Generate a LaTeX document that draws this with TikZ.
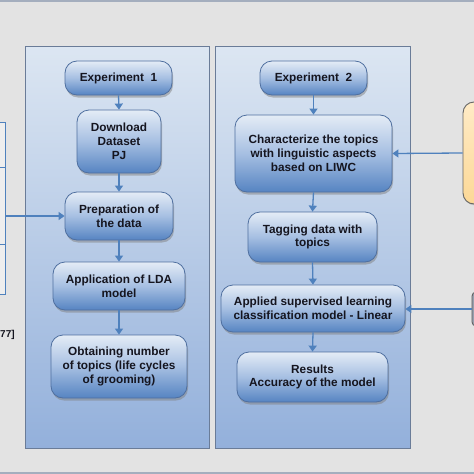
\documentclass[tikz,border=0pt]{standalone}
\usepackage{fontspec}
\setmainfont{Liberation Sans}
\usetikzlibrary{arrows.meta,shadows,calc}
\definecolor{bg}{HTML}{E3E3E3}
\definecolor{band}{HTML}{A4AEBE}
\definecolor{paneltop}{HTML}{DCE6F2}
\definecolor{panelbot}{HTML}{93B0DB}
\definecolor{panelline}{HTML}{6A7C98}
\definecolor{nodetop}{HTML}{E4ECF6}
\definecolor{nodemid}{HTML}{A6BFE2}
\definecolor{nodebot}{HTML}{5684C2}
\definecolor{nodeline}{HTML}{4F6F9F}
\definecolor{arrblue}{HTML}{4F81BD}
\definecolor{txt}{HTML}{15151F}
\definecolor{orangetop}{HTML}{FFEBC6}
\definecolor{orangebot}{HTML}{FCD896}
\definecolor{graybox}{HTML}{98A0AE}
\tikzset{
  panel/.style={draw=panelline, line width=0.9pt, top color=paneltop, bottom color=panelbot,
    drop shadow={opacity=0.25, shadow xshift=1pt, shadow yshift=-1pt}, inner sep=0pt},
  stepbox/.style={draw=nodeline, line width=0.8pt, rounded corners=12pt,
    top color=nodetop, bottom color=nodebot, middle color=nodemid,
    drop shadow={opacity=0.5, shadow xshift=1pt, shadow yshift=-2.5pt},
    align=center, inner sep=2pt, text=txt,
    font=\fontsize{11.8}{13.8}\selectfont\bfseries},
  srcbox/.style={draw=arrblue, line width=0.9pt, fill=bg!60!white, inner sep=0pt},
  arr/.style={-{Triangle[length=6pt,width=8pt]}, line width=1.3pt, draw=arrblue},
  extbox/.style={draw=gray!80!black, line width=0.9pt, rounded corners=11pt,
    top color=orangetop, bottom color=orangebot, inner sep=0pt,
    drop shadow={opacity=0.3, shadow xshift=1pt, shadow yshift=-1.5pt}},
}
\begin{document}
\begin{tikzpicture}[x=1pt,y=-1pt]
\useasboundingbox (0,0) rectangle (474,474);
\clip (0,0) rectangle (474,474);
\fill[bg] (0,0) rectangle (474,474);
\fill[band] (0,0) rectangle (474,2);
\fill[band] (0,472) rectangle (474,474);

% panels
\node[panel, minimum width=184pt, minimum height=402pt] (p1) at (117,247) {};
\node[panel, minimum width=195pt, minimum height=402pt] (p2) at (312.5,247) {};

% left source boxes
\node[srcbox, minimum width=20pt, minimum height=45pt] (src1) at (-5,144.5) {};
\node[srcbox, minimum width=20pt, minimum height=77pt] (src2) at (-5,205.5) {};
\node[srcbox, minimum width=20pt, minimum height=50pt] (src3) at (-5,269) {};
\node[anchor=west, inner sep=0pt, text=txt, font=\fontsize{10}{12}\selectfont\bfseries] (ref) at (0,335) {77]};

% right external boxes
\node[extbox, minimum width=40pt, minimum height=102pt] (ext1) at (483,153) {};
\node[draw=gray!70!black, fill=graybox, line width=0.8pt, rounded corners=4pt, minimum width=30pt, minimum height=34pt, inner sep=0pt] (ext2) at (487,309) {};

% experiment 1
\node[stepbox, minimum width=107pt, minimum height=34pt] (exp1) at (118.5,78) {Experiment\ \ 1};
\node[stepbox, minimum width=84pt, minimum height=63pt] (dl) at (119,141.5) {Download\\Dataset\\PJ};
\node[stepbox, minimum width=108pt, minimum height=48pt] (prep) at (119,216) {Preparation of\\the data};
\node[stepbox, minimum width=132pt, minimum height=48pt] (lda) at (119,286) {Application of LDA\\model};
\node[stepbox, minimum width=136pt, minimum height=63pt] (obt) at (119,366.5) {Obtaining number\\of topics (life cycles\\of grooming)};

% experiment 2
\node[stepbox, minimum width=107pt, minimum height=34pt] (exp2) at (313.5,78) {Experiment\ \ 2};
\node[stepbox, minimum width=157pt, minimum height=77pt] (char) at (313.5,153.5) {Characterize the topics\\with linguistic aspects\\based on LIWC};
\node[stepbox, minimum width=129pt, minimum height=50pt] (tag) at (312.5,237) {Tagging data with\\topics};
\node[stepbox, minimum width=184pt, minimum height=47pt] (appl) at (313,308.5) {Applied supervised learning\\classification model - Linear};
\node[stepbox, minimum width=151pt, minimum height=50pt] (res) at (312.5,377) {Results\\Accuracy of the model};

% arrows
\draw[arr] (exp1.south) -- (dl.north);
\draw[arr] (dl.south) -- (prep.north);
\draw[arr] (prep.south) -- (lda.north);
\draw[arr] (lda.south) -- (obt.north);
\draw[arr] (exp2.south) -- (char.north);
\draw[arr] (char.south) -- (tag.north);
\draw[arr] (tag.south) -- (appl.north);
\draw[arr] (appl.south) -- (res.north);
\draw[arr] (src2.east |- prep.west) -- (prep.west);
\draw[arr] (ext1.west) -- (char.east);
\draw[arr] (ext2.west) -- (ext2.west -| appl.east);
\end{tikzpicture}
\end{document}
